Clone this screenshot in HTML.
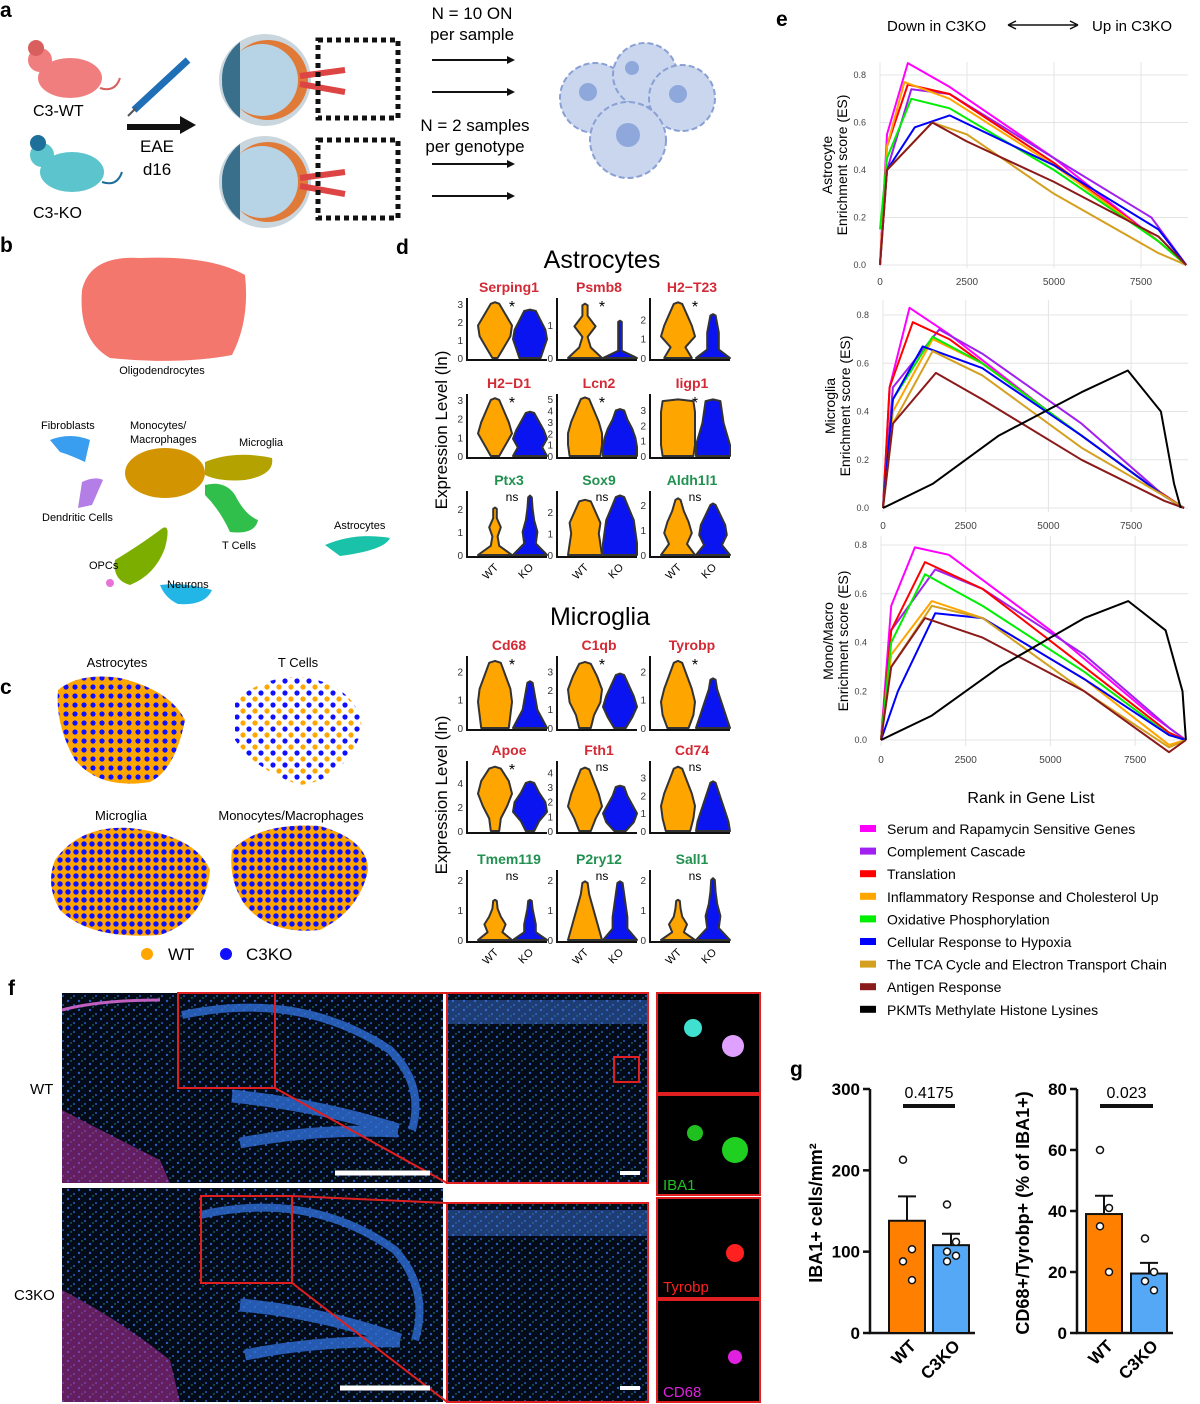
<!DOCTYPE html>
<html><head><meta charset="utf-8"><style>
body{margin:0;background:#fff}
svg{display:block;font-family:"Liberation Sans",sans-serif}
</style></head><body>
<svg id="fig" width="1200" height="1404" viewBox="0 0 1200 1404" xmlns="http://www.w3.org/2000/svg">
<defs>
<pattern id="pA" width="9" height="9" patternUnits="userSpaceOnUse"><rect width="9" height="9" fill="#ffa500"/><circle cx="3" cy="3" r="2.6" fill="#1010ff"/></pattern>
<pattern id="pT" width="12" height="12" patternUnits="userSpaceOnUse"><rect width="12" height="12" fill="#fff"/><circle cx="3" cy="3" r="2.6" fill="#ffa500"/><circle cx="9" cy="9" r="2.6" fill="#1010ff"/></pattern>
<pattern id="pM" width="8" height="8" patternUnits="userSpaceOnUse"><rect width="8" height="8" fill="#ffa500"/><circle cx="4" cy="4" r="2.7" fill="#1010ff"/></pattern>
<pattern id="spk" width="11" height="9" patternUnits="userSpaceOnUse"><rect width="11" height="9" fill="#030a18"/><circle cx="2" cy="2" r="1.2" fill="#2a5cc0"/><circle cx="8" cy="6" r="1" fill="#2a5cc0"/><circle cx="5" cy="8" r="0.7" fill="#20a080"/></pattern>
</defs>

<g font-weight="bold" font-size="21">
<text x="0" y="17">a</text><text x="0" y="252">b</text><text x="0" y="694">c</text><text x="396" y="254">d</text><text x="776" y="26">e</text><text x="8" y="995">f</text><text x="790" y="1076">g</text>
</g>

<!-- PANEL A -->
<g>
<g><ellipse cx="70" cy="78" rx="32" ry="20" fill="#f07e7e"/><circle cx="40" cy="60" r="12" fill="#f07e7e"/><circle cx="36" cy="48" r="8" fill="#d95f5f"/><path d="M100 88 q15 5 20 -10" stroke="#d95f5f" stroke-width="2" fill="none"/></g>
<text x="33" y="116" font-size="16">C3-WT</text>
<g><ellipse cx="72" cy="172" rx="32" ry="20" fill="#5cc4cc"/><circle cx="42" cy="155" r="12" fill="#5cc4cc"/><circle cx="38" cy="143" r="8" fill="#1e6f9a"/><path d="M102 182 q15 5 20 -10" stroke="#1e6f9a" stroke-width="2" fill="none"/></g>
<text x="33" y="218" font-size="16">C3-KO</text>
<g><line x1="134" y1="110" x2="188" y2="60" stroke="#1e6fb5" stroke-width="7"/><line x1="128" y1="116" x2="136" y2="108" stroke="#555" stroke-width="2"/></g>
<path d="M127 124 H180 V116 L196 125 L180 134 V130 H127 Z" fill="#111"/>
<text x="157" y="152" font-size="17" text-anchor="middle">EAE</text><text x="157" y="175" font-size="17" text-anchor="middle">d16</text>
<g><circle cx="265" cy="80" r="46" fill="#c9d6de"/><circle cx="268" cy="80" r="40" fill="#e07a38"/><circle cx="262" cy="80" r="36" fill="#b7d3e6"/><path d="M222 80 a46 46 0 0 1 18 -38 v76 a46 46 0 0 1 -18 -38z" fill="#3a6f8c"/><path d="M300 76 L345 70 M300 84 L345 92" stroke="#d44" stroke-width="6"/></g>
<g><circle cx="265" cy="182" r="46" fill="#c9d6de"/><circle cx="268" cy="182" r="40" fill="#e07a38"/><circle cx="262" cy="182" r="36" fill="#b7d3e6"/><path d="M222 182 a46 46 0 0 1 18 -38 v76 a46 46 0 0 1 -18 -38z" fill="#3a6f8c"/><path d="M300 178 L345 172 M300 186 L345 194" stroke="#d44" stroke-width="6"/></g>
<rect x="318" y="40" width="80" height="78" fill="none" stroke="#111" stroke-width="5" stroke-dasharray="5 4"/>
<rect x="318" y="140" width="80" height="78" fill="none" stroke="#111" stroke-width="5" stroke-dasharray="5 4"/>
<g font-size="17" text-anchor="middle"><text x="472" y="19">N = 10 ON</text><text x="472" y="40">per sample</text><text x="475" y="131">N = 2 samples</text><text x="475" y="152">per genotype</text></g>
<g stroke="#111" stroke-width="2"><line x1="432" y1="60" x2="510" y2="60"/><line x1="432" y1="92" x2="510" y2="92"/><line x1="432" y1="164" x2="510" y2="164"/><line x1="432" y1="196" x2="510" y2="196"/></g>
<g fill="#111"><path d="M515 60 l-8 -4 v8z"/><path d="M515 92 l-8 -4 v8z"/><path d="M515 164 l-8 -4 v8z"/><path d="M515 196 l-8 -4 v8z"/></g>
<g fill="#c9d6ee" stroke="#8aa0d4" stroke-width="2" stroke-dasharray="6 3">
<circle cx="595" cy="98" r="35"/><circle cx="645" cy="75" r="32"/><circle cx="682" cy="98" r="33"/><circle cx="628" cy="140" r="38"/>
</g>
<g fill="#8fa8dc"><circle cx="588" cy="92" r="9"/><circle cx="632" cy="68" r="7"/><circle cx="678" cy="94" r="9"/><circle cx="628" cy="135" r="12"/></g>
</g>

<!-- PANEL B -->
<g>
<path d="M82 290 Q90 255 140 258 Q210 255 245 275 Q250 320 232 355 Q180 365 110 358 Q78 340 82 290Z" fill="#f4776e"/>
<text x="162" y="374" font-size="11" text-anchor="middle">Oligodendrocytes</text>
<path d="M50 440 Q70 432 90 440 L85 462 Q70 455 60 452Z" fill="#3a9ef0"/>
<path d="M82 482 Q95 476 103 480 L92 505 L78 508Z" fill="#b37fe6"/>
<ellipse cx="165" cy="473" rx="40" ry="25" fill="#d29400"/>
<path d="M205 462 Q235 450 272 458 Q275 475 245 480 Q220 482 205 475Z" fill="#b4a200"/>
<path d="M205 485 Q225 480 235 495 Q245 515 258 520 Q255 535 230 532 Q220 510 205 495Z" fill="#2fbf4a"/>
<path d="M325 545 Q355 532 390 538 Q385 550 340 556 Z" fill="#19c2a8"/>
<path d="M115 560 Q140 545 160 530 Q172 520 165 548 Q155 575 130 585 Q112 580 115 560Z" fill="#7cae00"/>
<path d="M160 585 Q185 582 212 590 Q205 606 178 604 Q165 598 160 585Z" fill="#22b6e6"/>
<circle cx="110" cy="583" r="4" fill="#e872d8"/>
<g font-size="11"><text x="41" y="429">Fibroblasts</text><text x="130" y="429">Monocytes/</text><text x="130" y="443">Macrophages</text><text x="239" y="446">Microglia</text><text x="42" y="521">Dendritic Cells</text><text x="222" y="549">T Cells</text><text x="334" y="529">Astrocytes</text><text x="89" y="569">OPCs</text><text x="167" y="588">Neurons</text></g>
</g>

<!-- PANEL C -->
<g font-size="13">
<text x="117" y="667" text-anchor="middle">Astrocytes</text><text x="298" y="667" text-anchor="middle">T Cells</text><text x="121" y="820" text-anchor="middle">Microglia</text><text x="291" y="820" text-anchor="middle">Monocytes/Macrophages</text>
<path d="M58 690 Q80 672 120 678 Q170 690 185 720 Q175 770 150 782 Q100 790 75 760 Q55 725 58 690Z" fill="url(#pA)"/>
<path d="M235 700 Q270 672 310 678 Q360 690 362 730 Q345 780 300 785 Q255 770 235 740Z" fill="url(#pT)"/>
<path d="M55 860 Q80 825 130 828 Q195 835 210 870 Q205 920 160 935 Q90 940 60 910 Q45 885 55 860Z" fill="url(#pM)"/>
<path d="M232 850 Q260 822 320 826 Q368 840 368 870 Q360 910 320 930 Q270 935 245 905 Q228 880 232 850Z" fill="url(#pM)"/>
<g font-size="17"><circle cx="147" cy="954" r="6" fill="#ffa500"/><text x="168" y="960">WT</text><circle cx="226" cy="954" r="6" fill="#1010ff"/><text x="246" y="960">C3KO</text></g>
</g>

<!-- PANEL D -->
<g id="violins">
<text x="602" y="268" font-size="25" text-anchor="middle">Astrocytes</text>
<text x="600" y="625" font-size="25" text-anchor="middle">Microglia</text>
<text transform="translate(447 430) rotate(-90)" font-size="17" text-anchor="middle">Expression Level (ln)</text>
<text transform="translate(447 795) rotate(-90)" font-size="17" text-anchor="middle">Expression Level (ln)</text>
</g>

<!-- PANEL E -->
<g id="gsea">
<text x="887" y="31" font-size="15">Down in C3KO</text><text x="1092" y="31" font-size="15">Up in C3KO</text>
<path d="M1008 25 H1078 M1008 25 l8 -4 M1008 25 l8 4 M1078 25 l-8 -4 M1078 25 l-8 4" stroke="#111" stroke-width="1.5" fill="none"/>
<text x="1031" y="803" font-size="16" text-anchor="middle">Rank in Gene List</text>
</g>

<!-- PANEL F -->
<g>
<text x="30" y="1094" font-size="15">WT</text><text x="14" y="1300" font-size="15">C3KO</text>
<rect x="62" y="993" width="381" height="190" fill="url(#spk)"/>
<rect x="62" y="1188" width="381" height="214" fill="url(#spk)"/>
<rect x="447" y="993" width="201" height="190" fill="url(#spk)"/>
<rect x="447" y="1203" width="201" height="199" fill="url(#spk)"/>
<g fill="none" stroke="#2f6fd8" opacity="0.8">
<path d="M182 1015 Q300 990 390 1050 Q425 1085 412 1130" stroke-width="8"/>
<path d="M232 1096 Q320 1105 398 1130" stroke-width="13"/><path d="M240 1143 Q320 1128 398 1132" stroke-width="11"/>
<path d="M200 1215 Q310 1190 395 1250 Q430 1290 415 1340" stroke-width="8"/>
<path d="M240 1305 Q320 1312 400 1340" stroke-width="13"/><path d="M245 1355 Q320 1340 400 1342" stroke-width="11"/>
</g>
<path d="M62 1110 Q120 1140 160 1160 L170 1183 H62Z M62 1290 Q120 1320 170 1360 L180 1402 H62Z" fill="#b0309a" opacity="0.55"/>
<path d="M62 1010 Q100 1000 160 1000" stroke="#c060c0" stroke-width="3" fill="none"/>
<rect x="447" y="1000" width="201" height="24" fill="#3a6fd0" opacity="0.5"/><rect x="447" y="1210" width="201" height="26" fill="#3a6fd0" opacity="0.5"/>
<g fill="none" stroke="#e02020" stroke-width="2"><rect x="178" y="993" width="97" height="95"/><line x1="275" y1="993" x2="447" y2="993"/><line x1="275" y1="1088" x2="447" y2="1183"/>
<rect x="201" y="1196" width="91" height="87"/><line x1="292" y1="1196" x2="447" y2="1203"/><line x1="292" y1="1283" x2="447" y2="1402"/>
<rect x="447" y="993" width="201" height="190"/><rect x="447" y="1203" width="201" height="199"/><rect x="614" y="1057" width="25" height="25"/></g>
<line x1="335" y1="1173" x2="430" y2="1173" stroke="#fff" stroke-width="5"/><line x1="340" y1="1388" x2="430" y2="1388" stroke="#fff" stroke-width="5"/>
<line x1="620" y1="1173" x2="640" y2="1173" stroke="#fff" stroke-width="4"/><line x1="620" y1="1388" x2="640" y2="1388" stroke="#fff" stroke-width="4"/>
<g stroke="#e02020" stroke-width="2">
<rect x="657" y="993" width="103" height="100" fill="#000"/><rect x="657" y="1095" width="103" height="100" fill="#000"/><rect x="657" y="1198" width="103" height="100" fill="#000"/><rect x="657" y="1300" width="103" height="102" fill="#000"/></g>
<circle cx="693" cy="1028" r="9" fill="#40e0d0"/><circle cx="733" cy="1046" r="11" fill="#e0a0ff"/><circle cx="695" cy="1133" r="8" fill="#20c020"/><circle cx="735" cy="1150" r="13" fill="#20d020"/><circle cx="735" cy="1253" r="9" fill="#ff2020"/><circle cx="735" cy="1357" r="7" fill="#e020e0"/>
<text x="663" y="1190" fill="#20c020" font-size="15">IBA1</text><text x="663" y="1292" fill="#ff2020" font-size="15">Tyrobp</text><text x="663" y="1397" fill="#e020e0" font-size="15">CD68</text>
</g>

<!-- PANEL G -->
<g id="bars"></g>
</svg>

<script>
const NS='http://www.w3.org/2000/svg';
function mk(parent,tag,attrs,text){const e=document.createElementNS(NS,tag);for(const k in attrs)e.setAttribute(k,attrs[k]);if(text!==undefined)e.textContent=text;parent.appendChild(e);return e;}

/* ---------- Panel D: violin data ---------- */
const astroGenes=['Serping1','Psmb8','H2−T23','H2−D1','Lcn2','Iigp1','Ptx3','Sox9','Aldh1l1'];
const astroUp=[1,1,1,1,1,1,0,0,0];
const astroSig=['*','*','*','*','*','*','ns','ns','ns'];
const astroTicks=[[0,1,2,3],[0,1],[0,1,2],[0,1,2,3],[0,1,2,3,4,5],[0,1,2,3],[0,1,2],[0,1,2],[0,1,2]];
const astroMax=[3.1,1.7,2.9,3.1,5.1,3.8,2.6,2.8,2.4];
const astroWTtop=[3,1.6,2.8,3,5,3.6,2,2.5,2.2];
const astroKOtop=[2.6,1.1,2.2,2.3,4,3.6,2.5,2.7,2];
const astroWTw=[[0.1,0.5,0.9,1,0.6,0.2],[1,0.3,0.1,0.6,0.1,0.1],[0.8,0.4,1,0.8,0.5,0.2],[0.2,0.6,1,0.8,0.5,0.2],[0.9,1,1,0.8,0.5,0.2],[0.9,1,1,1,1,0.9],[1,0.2,0.1,0.3,0.05,0.05],[1,0.9,0.8,0.9,0.6,0.3],[1,0.5,0.8,0.6,0.3,0.1]];
const astroKOw=[[0.6,0.8,1,0.9,0.6,0.3],[1,0.05,0.05,0.05,0.05,0.05],[1,0.3,0.3,0.3,0.2,0.1],[1,0.7,1,0.8,0.5,0.2],[1,1,0.9,0.7,0.4,0.2],[1,1,0.8,0.6,0.5,0.4],[1,0.3,0.4,0.2,0.1,0.05],[1,1,0.9,0.8,0.5,0.2],[1,0.5,0.8,0.7,0.4,0.1]];
const microGenes=['Cd68','C1qb','Tyrobp','Apoe','Fth1','Cd74','Tmem119','P2ry12','Sall1'];
const microUp=[1,1,1,1,1,1,0,0,0];
const microSig=['*','*','*','*','ns','ns','ns','ns','ns'];
const microTicks=[[0,1,2],[0,1,2,3],[0,1,2],[0,2,4],[0,1,2,3,4],[0,1,2,3],[0,1,2],[0,1,2],[0,1,2]];
const microMax=[2.4,3.6,2.4,5.5,4.5,3.7,2.2,2.2,2.2];
const microWTtop=[2.3,3.4,2.3,5.2,4.2,3.5,1.3,1.9,1.3];
const microKOtop=[1.6,2.8,1.7,4,3,2.7,1.3,1.9,2];
const microWTw=[[0.8,0.9,1,0.9,0.6,0.3],[0.3,0.5,0.9,1,0.7,0.3],[0.6,0.9,1,0.8,0.5,0.2],[0.2,0.3,0.7,1,0.8,0.3],[0.3,0.6,1,0.8,0.5,0.2],[0.7,0.9,1,0.8,0.5,0.2],[1,0.4,0.6,0.3,0.1,0.05],[1,0.8,0.6,0.4,0.2,0.1],[1,0.3,0.5,0.2,0.1,0.05]];
const microKOw=[[1,0.7,0.4,0.3,0.2,0.1],[0.3,0.7,1,0.8,0.5,0.2],[1,0.8,0.6,0.4,0.2,0.1],[0.2,0.5,1,0.9,0.5,0.2],[0.3,0.8,1,0.7,0.4,0.2],[1,0.9,0.7,0.5,0.3,0.1],[1,0.3,0.3,0.2,0.1,0.05],[1,0.4,0.4,0.3,0.2,0.1],[1,0.3,0.4,0.2,0.1,0.05]];

const colX=[467,557,650];
const astroRows=[[300,360],[396,458],[493,557]];
const microRows=[[658,730],[763,833],[872,942]];
function violin(g,cx,yFn,top,w,fill){
  const n=w.length;let r=[],l=[];
  for(let i=0;i<n;i++){const v=top*i/(n-1);const y=yFn(v);const hw=w[i]*16+1;r.push([cx+hw,y]);l.unshift([cx-hw,y]);}
  const yt=yFn(top*1.03);
  const pts=[...r,[cx,yt],...l];
  let d='M'+pts.map(p=>p[0].toFixed(1)+' '+p[1].toFixed(1)).join(' L')+'Z';
  const p=mk(g,'path',{d:d,fill:fill,stroke:'#333','stroke-width':2,'stroke-linejoin':'round'});
  
  
}
function violinBlock(genes,up,sig,ticks,maxv,wtTop,koTop,wtW,koW,rows,labelY){
  const g=document.getElementById('violins');
  genes.forEach((gene,i)=>{
    const c=i%3,r=Math.floor(i/3);const x0=colX[c];const [yt,yb]=rows[r];
    const yFn=v=>yb-2-(v/maxv[i])*(yb-yt-4);
    const t=mk(g,'text',{x:x0+42,y:yt-8,'font-size':14,'font-weight':'bold','text-anchor':'middle',fill:up[i]?'#d42a35':'#219150'},gene);
    
    
    mk(g,'text',{x:x0+45,y:yt+(sig[i]=='*'?12:8),'font-size':sig[i]=='*'?16:12,'text-anchor':'middle'},sig[i]);
    violin(g,x0+28,yFn,wtTop[i],wtW[i],'#ffa500');
    violin(g,x0+63,yFn,koTop[i],koW[i],'#0a14f0');
    mk(g,'path',{d:`M${x0} ${yt-2} V${yb} H${x0+80}`,stroke:'#111','stroke-width':2,fill:'none'});
    ticks[i].forEach(tv=>{mk(g,'text',{x:x0-4,y:yFn(tv)+4,'font-size':10,'text-anchor':'end',fill:'#333'},String(tv));});
    if(r==2){[['WT',28],['KO',63]].forEach(([lab,dx])=>{mk(g,'text',{transform:`translate(${x0+dx+4} ${labelY}) rotate(-45)`,'font-size':11,'text-anchor':'end'},lab);});}
  });
}
violinBlock(astroGenes,astroUp,astroSig,astroTicks,astroMax,astroWTtop,astroKOtop,astroWTw,astroKOw,astroRows,568);
violinBlock(microGenes,microUp,microSig,microTicks,microMax,microWTtop,microKOtop,microWTw,microKOw,microRows,953);

/* ---------- Panel E: GSEA ---------- */
const seriesNames=['Serum and Rapamycin Sensitive Genes','Complement Cascade','Translation','Inflammatory Response and Cholesterol Up','Oxidative Phosphorylation','Cellular Response to Hypoxia','The TCA Cycle and Electron Transport Chain','Antigen Response','PKMTs Methylate Histone Lysines'];
const seriesColors=['#ff00ff','#a020f0','#ff0000','#ffa500','#00ee00','#0000ff','#d4a020','#8b1a1a','#000000'];
const xTicks=[0,2500,5000,7500];
const esAstro=[
 [[0,0],[200,0.55],[800,0.85],[2000,0.75],[5000,0.45],[8000,0.1],[8800,0]],
 [[0,0],[200,0.4],[900,0.74],[2000,0.72],[5000,0.45],[7800,0.2],[8800,0]],
 [[0,0],[200,0.5],[800,0.76],[2000,0.72],[5000,0.43],[8000,0.1],[8800,0]],
 [[0,0],[200,0.5],[700,0.77],[2000,0.7],[5000,0.42],[8000,0.1],[8800,0]],
 [[0,0.15],[200,0.45],[900,0.7],[2000,0.66],[5000,0.4],[8000,0.1],[8800,0]],
 [[0,0],[200,0.4],[1000,0.58],[2000,0.63],[5000,0.42],[8000,0.15],[8800,0]],
 [[0,0],[200,0.4],[1500,0.6],[2500,0.55],[5000,0.3],[8000,0.05],[8800,0]],
 [[0,0],[200,0.4],[1500,0.6],[2500,0.52],[5000,0.35],[8000,0.12],[8800,0]],
 null];
const esMicro=[
 [[0,0],[200,0.5],[800,0.83],[2000,0.72],[5000,0.4],[8000,0.1],[9100,0]],
 [[0,0],[300,0.5],[1700,0.74],[3000,0.64],[6000,0.35],[8500,0.05],[9100,0]],
 [[0,0],[200,0.5],[900,0.77],[2000,0.7],[5000,0.4],[8000,0.1],[9100,0]],
 [[0,0],[300,0.4],[1500,0.7],[3000,0.6],[6000,0.3],[8500,0.05],[9100,0]],
 [[0,0],[300,0.45],[1500,0.71],[3000,0.6],[6000,0.3],[8500,0.05],[9100,0]],
 [[0,0],[300,0.45],[1200,0.67],[3000,0.58],[6000,0.3],[8500,0.05],[9100,0]],
 [[0,0],[300,0.35],[1500,0.65],[3000,0.55],[6000,0.25],[8500,0.05],[9100,0]],
 [[0,0],[300,0.35],[1600,0.56],[3000,0.45],[6000,0.2],[8500,0.03],[9100,0]],
 [[0,0],[1500,0.1],[3500,0.3],[6000,0.48],[7400,0.57],[8400,0.4],[8800,0.1],[9000,0]]];
const esMono=[
 [[0,0],[300,0.55],[1000,0.79],[2000,0.76],[5000,0.45],[8000,0.1],[9000,0]],
 [[0,0],[300,0.45],[1600,0.7],[3000,0.62],[6000,0.35],[8500,0.05],[9000,0]],
 [[0,0],[300,0.45],[1300,0.73],[3000,0.62],[6000,0.3],[8500,0.03],[9000,0]],
 [[0,0],[300,0.35],[1500,0.57],[3000,0.5],[6000,0.25],[8500,-0.02],[9000,0]],
 [[0,0],[300,0.4],[1300,0.68],[3000,0.55],[6000,0.28],[8500,0.02],[9000,0]],
 [[0,0],[500,0.2],[1600,0.52],[3000,0.5],[6000,0.25],[8500,0.02],[9000,0]],
 [[0,0],[300,0.3],[1500,0.55],[3000,0.5],[6000,0.2],[8500,-0.03],[9000,0]],
 [[0,0],[300,0.3],[1300,0.5],[3000,0.42],[6000,0.2],[8500,-0.05],[9000,0]],
 [[0,0],[1500,0.1],[3500,0.3],[6000,0.5],[7300,0.57],[8400,0.45],[8900,0.2],[9000,0]]];
const gseaPanels=[
 {data:esAstro,title:['Astrocyte','Enrichment score (ES)'],x0:880,xr:87/2500,y0:265,yr:(265-75)/0.8,top:62,bottom:268,right:1188},
 {data:esMicro,title:['Microglia','Enrichment score (ES)'],x0:883,xr:82.7/2500,y0:508,yr:(508-315)/0.8,top:300,bottom:512,right:1188},
 {data:esMono,title:['Mono/Macro','Enrichment score (ES)'],x0:881,xr:84.7/2500,y0:740,yr:(740-545)/0.8,top:536,bottom:746,right:1188}];
const esTicks=[0,0.2,0.4,0.6,0.8];
(function(){
 const g=document.getElementById('gsea');
 gseaPanels.forEach((P,pi)=>{
  const X=v=>P.x0+v*P.xr, Y=v=>P.y0-v*P.yr;
  const grid=mk(g,'g',{stroke:'#e4e4e4','stroke-width':1});
  esTicks.forEach(t=>{mk(grid,'line',{x1:P.x0,x2:P.right,y1:Y(t),y2:Y(t)});mk(g,'text',{x:P.x0-14,y:Y(t)+3,'font-size':9,'text-anchor':'end',fill:'#444'},t.toFixed(1));});
  xTicks.forEach(t=>{mk(grid,'line',{x1:X(t),x2:X(t),y1:P.top,y2:P.bottom});mk(g,'text',{x:X(t),y:P.bottom+17,'font-size':10,'text-anchor':'middle',fill:'#444'},String(t));});
  mk(g,'text',{transform:`translate(${P.x0-48} ${(P.top+P.bottom)/2}) rotate(-90)`,'font-size':14,'text-anchor':'middle'},P.title[0]);
  mk(g,'text',{transform:`translate(${P.x0-33} ${(P.top+P.bottom)/2}) rotate(-90)`,'font-size':14,'text-anchor':'middle'},P.title[1]);
  P.data.forEach((pts,si)=>{ if(!pts)return;
    const l=mk(g,'polyline',{points:pts.map(p=>X(p[0]).toFixed(1)+','+Y(p[1]).toFixed(1)).join(' '),fill:'none',stroke:seriesColors[si],'stroke-width':2,'stroke-linejoin':'round'});
    
    
  });
 });
 seriesNames.forEach((n,i)=>{const y=829+i*22.6;
  const r=mk(g,'rect',{x:860,y:y-4,width:16,height:7,fill:seriesColors[i]});
  
  
  const t=mk(g,'text',{x:887,y:y+5,'font-size':14},n);
  
  
 });
})();

/* ---------- Panel G: bars ---------- */
const barGroups=['WT','C3KO'];
const iba1Means=[138,108];
const iba1Sem=[30,14];
const iba1WT=[213,103,88,65];
const iba1KO=[158,112,100,95,88];
const cd68Means=[39,19.5];
const cd68Sem=[6,3.5];
const cd68WT=[60,41,35,20];
const cd68KO=[31,20,17,14];
const iba1Ticks=[0,100,200,300];
const cd68Ticks=[0,20,40,60,80];
(function(){
 const g=document.getElementById('bars');
 const charts=[
  {means:iba1Means,sem:iba1Sem,pts:[iba1WT,iba1KO],ticks:iba1Ticks,max:300,ax:870,bx:[889,933],title:'IBA1+ cells/mm²',p:'0.4175'},
  {means:cd68Means,sem:cd68Sem,pts:[cd68WT,cd68KO],ticks:cd68Ticks,max:80,ax:1077,bx:[1086,1131],title:'CD68+/Tyrobp+ (% of IBA1+)',p:'0.023'}];
 const yb=1333, yt=1089;
 charts.forEach(C=>{
  const Y=v=>yb-v/C.max*(yb-yt);
  mk(g,'path',{d:`M${C.ax} ${yt} V${yb} H${C.bx[1]+42}`,stroke:'#111','stroke-width':2.5,fill:'none'});
  C.ticks.forEach(t=>{mk(g,'line',{x1:C.ax-7,x2:C.ax,y1:Y(t),y2:Y(t),stroke:'#111','stroke-width':2.5});mk(g,'text',{x:C.ax-10,y:Y(t)+6,'font-size':17,'font-weight':'bold','text-anchor':'end'},String(t));});
  C.means.forEach((m,i)=>{
   const r=mk(g,'rect',{x:C.bx[i],y:Y(m),width:36,height:yb-Y(m),fill:i?'#55a8f5':'#ff8000',stroke:'#111','stroke-width':2});
   
   
   const cx=C.bx[i]+18;
   mk(g,'path',{d:`M${cx} ${Y(m)} V${Y(m+C.sem[i])} M${cx-9} ${Y(m+C.sem[i])} H${cx+9}`,stroke:'#111','stroke-width':2});
   C.pts[i].forEach((v,k)=>{const c=mk(g,'circle',{cx:cx+(k%2?5:-4),cy:Y(v),r:3.5,fill:'#fff',stroke:'#111','stroke-width':1.5});});
   mk(g,'text',{transform:`translate(${cx+10} ${yb+14}) rotate(-45)`,'font-size':17,'font-weight':'bold','text-anchor':'end'},barGroups[i]);
  });
  mk(g,'line',{x1:C.bx[0]+14,x2:C.bx[1]+22,y1:1106,y2:1106,stroke:'#111','stroke-width':4});
  mk(g,'text',{x:(C.bx[0]+C.bx[1]+36)/2,y:1098,'font-size':16,'text-anchor':'middle'},C.p);
  mk(g,'text',{transform:`translate(${C.ax-48} ${(yb+yt)/2+2}) rotate(-90)`,'font-size':18,'font-weight':'bold','text-anchor':'middle'},C.title);
 });
})();
</script>
</body></html>
